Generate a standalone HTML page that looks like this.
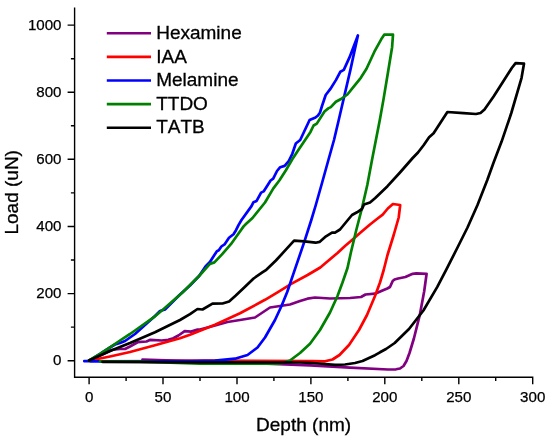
<!DOCTYPE html>
<html><head><meta charset="utf-8"><title>Load vs Depth</title>
<style>text{font-kerning:none}html,body{margin:0;padding:0;background:#fff}body{width:550px;height:441px;position:relative;overflow:hidden}</style></head>
<body>
<svg width="550" height="441" viewBox="0 0 550 441" style="position:absolute;left:0;top:0">
<rect width="550" height="441" fill="#fff"/>
<polyline points="89.0,360.5 100.0,355.5 112.0,350.0 115.0,349.5 120.0,349.0 125.0,349.0 130.0,346.5 137.6,342.2 146.5,341.5 150.4,339.8 161.8,340.5 168.2,339.9 173.3,338.3 178.4,335.5 184.7,331.2 191.1,331.6 197.5,329.6 200.0,329.5 215.0,325.5 227.5,322.0 240.0,320.0 255.0,317.5 262.5,312.5 270.0,307.5 290.0,304.5 300.0,301.0 307.5,298.7 315.0,297.5 330.0,298.5 350.0,298.0 361.0,297.0 365.5,294.5 375.0,293.7 382.5,290.5 387.3,288.5 390.0,287.0 392.7,281.0 394.5,279.5 398.1,278.5 405.4,277.0 412.7,273.8 416.3,273.4 426.6,273.8 424.2,291.3 419.8,314.9 413.9,338.5 409.5,353.0 406.5,361.0 403.5,366.0 400.0,368.5 396.0,369.3 388.0,369.5 350.0,367.6 310.0,365.3 250.0,363.0 190.0,361.0 142.5,359.5" fill="none" stroke="#800080" stroke-width="2.70" stroke-linejoin="round" stroke-linecap="round"/>
<polyline points="89.0,360.5 100.0,358.5 110.0,356.5 120.0,354.3 130.0,352.0 155.0,345.3 180.0,338.3 190.0,334.8 215.0,324.8 240.0,313.3 265.0,299.8 277.5,292.3 291.7,283.6 307.6,275.0 320.3,267.5 325.0,263.5 337.5,253.0 345.0,246.0 350.0,241.8 360.0,233.0 370.0,224.5 377.6,218.5 382.7,214.6 387.8,208.5 392.9,204.0 400.2,205.0 398.7,217.5 393.7,235.0 387.5,255.0 383.7,270.0 380.0,282.5 375.0,296.0 367.0,315.0 359.0,330.0 349.0,345.0 339.5,355.0 332.5,359.5 325.0,361.3 312.5,361.2 206.0,360.7 120.0,361.5" fill="none" stroke="#ff0000" stroke-width="2.70" stroke-linejoin="round" stroke-linecap="round"/>
<polyline points="84.3,361.2 89.0,360.8 100.0,354.0 110.0,347.5 115.0,344.5 120.0,343.0 125.0,341.0 130.0,337.5 135.0,334.0 155.0,316.0 160.0,311.0 165.0,309.5 180.0,294.5 190.0,285.5 199.1,276.0 205.5,266.5 209.9,262.0 214.4,255.0 216.9,251.2 218.8,250.3 221.4,246.5 224.5,244.4 229.0,237.8 233.5,234.3 236.0,230.2 238.5,225.1 241.5,220.0 251.5,206.1 253.5,202.2 256.6,200.9 261.1,192.6 263.6,191.4 270.6,180.5 273.2,178.6 277.0,171.0 280.2,167.2 284.6,165.9 288.5,161.5 292.3,153.8 295.8,143.5 300.2,140.0 309.6,120.0 315.5,117.5 318.0,115.5 320.0,112.5 322.0,106.0 325.7,95.0 330.2,89.2 335.9,80.1 340.4,71.7 343.8,69.9 349.5,57.4 357.9,35.4 354.3,52.0 350.4,69.9 344.6,94.8 338.5,121.0 334.0,140.0 328.4,160.0 322.3,182.0 315.8,205.0 311.3,220.0 304.2,242.2 295.5,267.6 287.2,292.0 281.5,306.0 275.0,320.0 265.0,337.5 257.5,347.5 247.5,355.0 235.0,358.7 215.0,360.7 190.0,361.2 90.0,361.3" fill="none" stroke="#0000ff" stroke-width="2.70" stroke-linejoin="round" stroke-linecap="round"/>
<polyline points="89.0,360.5 100.0,353.8 110.0,347.3 120.0,340.5 130.0,334.0 135.0,330.5 155.0,316.3 162.5,310.0 182.5,292.5 195.0,280.0 199.1,276.0 209.9,263.9 214.4,262.4 222.0,254.4 230.9,244.2 237.3,235.3 243.6,226.4 246.2,223.8 252.5,218.0 265.0,202.5 273.2,188.6 279.5,180.3 285.9,170.2 292.3,159.2 297.7,151.1 310.5,131.9 313.6,125.5 316.8,123.6 324.5,111.5 328.3,108.4 330.8,107.1 335.9,101.8 341.0,99.0 347.4,94.5 351.7,89.2 360.8,77.8 366.5,68.8 374.4,51.7 381.2,39.3 384.2,34.7 393.0,34.7 392.1,47.2 388.0,72.2 383.5,99.4 379.8,120.0 372.0,160.0 367.3,185.0 362.0,208.0 356.3,230.0 351.0,252.0 347.5,268.0 342.5,282.5 337.5,296.0 330.0,312.5 320.0,330.0 310.0,343.7 300.0,353.0 290.0,360.5 284.0,362.6 278.0,363.6 200.0,363.7 170.0,362.6 140.0,361.6 100.0,361.3" fill="none" stroke="#008000" stroke-width="2.70" stroke-linejoin="round" stroke-linecap="round"/>
<polyline points="89.0,360.5 110.0,351.0 120.0,347.0 130.0,343.0 155.0,332.3 180.0,320.0 190.0,314.2 197.5,309.0 202.5,309.5 212.5,303.7 222.5,303.5 229.1,301.5 235.5,295.8 244.5,287.2 253.6,278.5 262.7,272.2 266.3,269.8 275.9,260.5 285.4,250.2 294.1,240.6 304.4,241.4 315.6,242.7 319.5,241.9 326.0,236.3 332.0,232.7 335.0,232.6 340.0,229.5 347.0,221.0 352.0,215.0 357.0,212.3 362.0,209.0 364.0,204.5 370.0,202.5 375.0,198.2 387.5,186.2 400.0,172.5 412.7,158.0 418.0,152.5 423.6,145.2 429.1,137.2 433.6,133.2 447.4,112.0 463.5,113.2 476.0,114.0 480.5,113.0 484.5,109.5 493.6,96.5 502.7,82.2 511.8,68.0 515.6,63.2 524.0,63.7 521.5,78.1 511.3,113.0 501.6,141.6 493.7,162.2 487.3,180.0 477.5,205.0 467.5,227.5 457.5,247.5 446.8,268.7 437.3,286.9 423.4,310.5 409.0,329.0 394.7,343.0 386.0,349.0 380.0,352.3 375.0,355.2 362.5,361.0 355.0,363.0 345.0,364.5 335.0,364.8 325.0,364.0 312.5,363.0 300.0,362.5 200.0,362.4 102.5,361.8" fill="none" stroke="#000000" stroke-width="2.70" stroke-linejoin="round" stroke-linecap="round"/>
<path d="M74.6 7.6V377.3M73.9 377.3H533.4M89.1 377.3v7.0M126.1 377.3v3.7M163.0 377.3v7.0M200.0 377.3v3.7M237.0 377.3v7.0M273.9 377.3v3.7M310.9 377.3v7.0M347.9 377.3v3.7M384.8 377.3v7.0M421.8 377.3v3.7M458.8 377.3v7.0M495.7 377.3v3.7M532.7 377.3v7.0M74.6 360.7h-7.0M74.6 327.1h-3.7M74.6 293.6h-7.0M74.6 260.0h-3.7M74.6 226.5h-7.0M74.6 192.9h-3.7M74.6 159.3h-7.0M74.6 125.8h-3.7M74.6 92.2h-7.0M74.6 58.7h-3.7M74.6 25.1h-7.0" stroke="#000" stroke-width="1.4" fill="none"/>
<g font-family="Liberation Sans, Arial, sans-serif" font-size="15.1" fill="#000" stroke="#000" stroke-width="0.25">
<text x="89.1" y="401.5" text-anchor="middle">0</text>
<text x="163.0" y="401.5" text-anchor="middle">50</text>
<text x="237.0" y="401.5" text-anchor="middle">100</text>
<text x="310.9" y="401.5" text-anchor="middle">150</text>
<text x="384.8" y="401.5" text-anchor="middle">200</text>
<text x="458.8" y="401.5" text-anchor="middle">250</text>
<text x="532.7" y="401.5" text-anchor="middle">300</text>
<text x="61.5" y="365.4" text-anchor="end">0</text>
<text x="61.5" y="298.3" text-anchor="end">200</text>
<text x="61.5" y="231.2" text-anchor="end">400</text>
<text x="61.5" y="164.0" text-anchor="end">600</text>
<text x="61.5" y="96.9" text-anchor="end">800</text>
<text x="61.5" y="29.8" text-anchor="end">1000</text>
</g>
<g font-family="Liberation Sans, Arial, sans-serif" font-size="19" fill="#000" stroke="#000" stroke-width="0.3">
<text x="303.6" y="430.6" text-anchor="middle">Depth (nm)</text>
<text transform="translate(18.3,192.3) rotate(-90)" text-anchor="middle">Load (uN)</text>
<line x1="106.8" x2="151" y1="33.3" y2="33.3" stroke="#800080" stroke-width="2.6"/>
<text x="156.2" y="38.9">Hexamine</text>
<line x1="106.8" x2="151" y1="56.9" y2="56.9" stroke="#ff0000" stroke-width="2.6"/>
<text x="156.2" y="62.5">IAA</text>
<line x1="106.8" x2="151" y1="80.5" y2="80.5" stroke="#0000ff" stroke-width="2.6"/>
<text x="156.2" y="86.1">Melamine</text>
<line x1="106.8" x2="151" y1="104.1" y2="104.1" stroke="#008000" stroke-width="2.6"/>
<text x="156.2" y="109.7">TTDO</text>
<line x1="106.8" x2="151" y1="127.7" y2="127.7" stroke="#000000" stroke-width="2.6"/>
<text x="156.2" y="133.3">TATB</text>
</g>
</svg>
</body></html>
